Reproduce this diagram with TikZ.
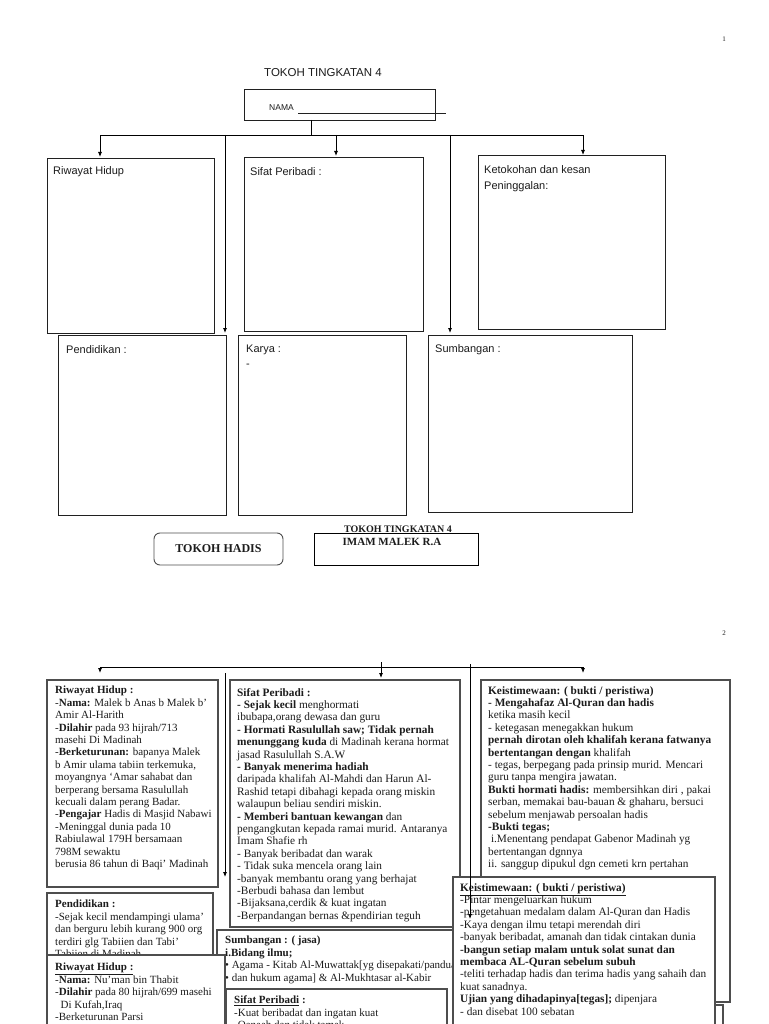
\documentclass[tikz,border=0pt]{standalone}
\usepackage{fontspec}
\setmainfont{Liberation Serif}
\newfontfamily\formfont{Liberation Sans}
\usetikzlibrary{arrows.meta}
\definecolor{Ink}{HTML}{1C1C1C}
\definecolor{Frame}{HTML}{4E4E4E}
\definecolor{FormLine}{HTML}{202020}

\begin{document}
\begin{tikzpicture}[x=1pt,y=-1pt,text=Ink,>={Latex[length=5pt,width=4pt]},
 formbox/.style={draw=FormLine,line width=0.8pt,inner sep=0pt},
 formlabel/.style={anchor=west,inner sep=0pt,font=\formfont\fontsize{11}{13}\selectfont},
 panel/.style={draw=Frame,line width=1.1pt,fill=white,inner sep=0pt},
 paneltext/.style={anchor=north west,inner sep=0pt,align=left,font=\fontsize{11}{12.4}\selectfont},
 widetext/.style={paneltext,font=\fontsize{11.3}{12.4}\selectfont},
 link/.style={draw=black,line width=0.8pt}]
\fill[white] (0,0) rectangle (768,1024);
\useasboundingbox (0,0) rectangle (768,1024);
\clip (0,0) rectangle (768,1024);
\node[font=\fontsize{7}{8}\selectfont] (pageone) at (724,39) {1};
\node[font=\formfont\fontsize{11.5}{14}\selectfont] (titleone) at (323,73) {TOKOH TINGKATAN 4};
\node[formbox,minimum width=191pt,minimum height=31pt] (nama) at (339.5,104.5) {};
\node[formlabel,font=\formfont\fontsize{8.5}{10}\selectfont] (namalabel) at (269,108) {NAMA};
\draw[FormLine,line width=0.7pt] (298,113) -- (446,113);
\node[formbox,minimum width=167pt,minimum height=175pt] (riwayat) at (130.5,245.5) {};
\node[formbox,minimum width=179pt,minimum height=174pt] (sifat) at (333.5,244) {};
\node[formbox,minimum width=187pt,minimum height=174pt] (ketokohan) at (571.5,242) {};
\node[formbox,minimum width=168pt,minimum height=180pt] (pendidikan) at (142,425) {};
\node[formbox,minimum width=168pt,minimum height=180pt] (karya) at (322,425) {};
\node[formbox,minimum width=204pt,minimum height=177pt] (sumbangan) at (530,423.5) {};
\node[formlabel] (riwayatlabel) at (53,172) {Riwayat Hidup};
\node[formlabel] (sifatlabel) at (250,172) {Sifat Peribadi :};
\node[formlabel] (ketokohanlabel) at (484,170) {Ketokohan dan kesan};
\node[formlabel] (peninggalanlabel) at (484,187) {Peninggalan:};
\node[formlabel] (pendidikanlabel) at (66,350) {Pendidikan :};
\node[formlabel] (karyalabel) at (246,350) {Karya :};
\node[formlabel] (karyadash) at (246,366) {-};
\node[formlabel] (sumbanganlabel) at (435,350) {Sumbangan :};
\coordinate (namafoot) at (311,120);
\coordinate (hubone) at (311,135);
\coordinate (tiponea) at (100,157);
\coordinate (tiponeb) at (336,156);
\coordinate (tiponec) at (583,155);
\coordinate (droponea) at (225,135);
\coordinate (droponeaend) at (225,333);
\coordinate (droponeb) at (450,135);
\coordinate (droponebend) at (450,333);
\draw[link] (namafoot) -- (hubone);
\draw[link,->] (hubone) -| (tiponea);
\draw[link,->] (hubone) -| (tiponec);
\draw[link,->] (tiponeb |- hubone) -- (tiponeb);
\draw[link,->] (droponea) -- (droponeaend);
\draw[link,->] (droponeb) -- (droponebend);
\node[font=\bfseries\fontsize{10}{12}\selectfont] (titletwo) at (398,529) {TOKOH TINGKATAN 4};
\node[draw=Frame,line width=0.9pt,rounded corners=6pt,minimum width=129pt,minimum height=32pt,font=\bfseries\fontsize{12}{14}\selectfont] (hadis) at (218.5,549) {TOKOH HADIS};
\node[draw=black,line width=0.9pt,minimum width=164pt,minimum height=32pt] (imam) at (396,549) {};
\node[font=\bfseries\fontsize{11}{13}\selectfont] (imamlabel) at (392,542) {IMAM MALEK R.A};
\node[font=\fontsize{7}{8}\selectfont] (pagetwo) at (724,633) {2};
\node[panel,minimum width=171pt,minimum height=207pt] (rhone) at (132.5,783.5) {};
\begin{scope}
\clip (rhone.north west) rectangle (rhone.south east);
\node[paneltext] (rhonetext) at (55,686) {\textbf{Riwayat Hidup :}\\
-\textbf{Nama:} Malek b Anas b Malek b’\\
Amir Al-Harith\\
-\textbf{Dilahir} pada 93 hijrah/713\\
masehi Di Madinah\\
-\textbf{Berketurunan:}  bapanya Malek\\
b Amir ulama tabiin terkemuka,\\
moyangnya ‘Amar sahabat dan\\
berperang bersama Rasulullah\\
kecuali dalam perang Badar.\\
-\textbf{Pengajar} Hadis di Masjid Nabawi\\
-Meninggal dunia pada 10\\
Rabiulawal 179H bersamaan\\
798M sewaktu\\
berusia 86 tahun di Baqi’ Madinah};
\end{scope}
\node[panel,minimum width=230pt,minimum height=247pt] (sfone) at (345,803.5) {};
\begin{scope}
\clip (sfone.north west) rectangle (sfone.south east);
\node[widetext] (sfonetext) at (237,688) {\textbf{Sifat Peribadi :}\\
\textbf{- Sejak kecil} menghormati\\
ibubapa,orang dewasa dan guru\\
\textbf{- Hormati Rasulullah saw; Tidak pernah}\\
\textbf{menunggang kuda} di Madinah kerana hormat\\
jasad Rasulullah S.A.W\\
\textbf{- Banyak menerima hadiah}\\
daripada khalifah Al-Mahdi dan Harun Al-\\
Rashid tetapi dibahagi kepada orang miskin\\
walaupun beliau sendiri miskin.\\
\textbf{- Memberi bantuan kewangan} dan\\
pengangkutan kepada ramai murid. Antaranya\\
Imam Shafie rh\\
- Banyak beribadat dan warak\\
- Tidak suka mencela orang lain\\
-banyak membantu orang yang berhajat\\
-Berbudi bahasa dan lembut\\
-Bijaksana,cerdik \& kuat ingatan\\
-Berpandangan bernas \&pendirian teguh};
\end{scope}
\node[panel,minimum width=249pt,minimum height=322pt] (ksone) at (605.5,841) {};
\begin{scope}
\clip (ksone.north west) rectangle (ksone.south east);
\node[widetext] (ksonetext) at (488,686) {\textbf{Keistimewaan: ( bukti / peristiwa)}\\
\textbf{- Mengahafaz Al-Quran dan hadis}\\
ketika masih kecil\\
- ketegasan menegakkan hukum\\
\textbf{pernah dirotan oleh khalifah kerana fatwanya}\\
\textbf{bertentangan dengan} khalifah\\
- tegas,  berpegang pada prinsip  murid.  Mencari\\
guru tanpa mengira jawatan.\\
\textbf{Bukti hormati hadis:} membersihkan diri , pakai\\
serban, memakai bau-bauan \& ghaharu, bersuci\\
sebelum menjawab persoalan hadis\\
\textbf{-Bukti tegas;}\\
\ i.Menentang pendapat Gabenor Madinah yg\\
bertentangan dgnnya\\
ii. sanggup dipukul dgn cemeti krn pertahan};
\end{scope}
\node[panel,minimum width=166pt,minimum height=107pt] (pdone) at (130,946.5) {};
\begin{scope}
\clip (pdone.north west) rectangle (pdone.south east);
\node[paneltext] (pdonetext) at (55,900) {\textbf{Pendidikan :}\\
-Sejak kecil mendampingi ulama’\\
dan berguru lebih kurang 900 org\\
terdiri glg Tabiien dan Tabi’\\
Tabiien di Madinah};
\end{scope}
\node[panel,minimum width=283pt,minimum height=110pt] (sbone) at (358.5,985) {};
\begin{scope}
\clip (sbone.north west) rectangle (sbone.south east);
\node[paneltext] (sbonetext) at (225,936) {\textbf{Sumbangan : ( jasa)}\\
\textbf{i.Bidang ilmu;}\\
\textbullet\ Agama - Kitab Al-Muwattak[yg disepakati/panduan il\\
\textbullet\ dan hukum agama] \& Al-Mukhtasar al-Kabir};
\end{scope}
\node[panel,minimum width=23pt,minimum height=35pt] (edgepiece) at (711.5,1022.5) {};
\node[panel,minimum width=178pt,minimum height=85pt] (rhtwo) at (136,997.5) {};
\begin{scope}
\clip (rhtwo.north west) rectangle (rhtwo.south east);
\node[paneltext] (rhtwotext) at (55,963) {\textbf{\underline{Riwayat Hidup :}}\\
-\textbf{Nama:} Nu’man bin Thabit\\
-\textbf{Dilahir} pada 80 hijrah/699 masehi\\
\ \ Di Kufah,Iraq\\
-Berketurunan Parsi};
\end{scope}
\node[panel,minimum width=221pt,minimum height=51pt] (sftwo) at (336.5,1014.5) {};
\begin{scope}
\clip (sftwo.north west) rectangle (sftwo.south east);
\node[paneltext] (sftwotext) at (234,996) {\textbf{\underline{Sifat Peribadi} :}\\
-Kuat beribadat dan ingatan kuat\\
-Qanaah dan tidak tamak};
\end{scope}
\node[panel,minimum width=262pt,minimum height=163pt] (kstwo) at (584,958.5) {};
\begin{scope}
\clip (kstwo.north west) rectangle (kstwo.south east);
\node[widetext] (kstwotext) at (460,883) {\textbf{\underline{Keistimewaan: ( bukti / peristiwa)}}\\
-Pintar mengeluarkan hukum\\
-pengetahuan medalam dalam Al-Quran dan Hadis\\
-Kaya dengan ilmu tetapi merendah diri\\
-banyak beribadat, amanah dan tidak cintakan  dunia\\
\textbf{-bangun setiap malam untuk solat sunat dan}\\
\textbf{membaca AL-Quran sebelum subuh}\\
-teliti terhadap hadis dan terima hadis yang sahaih dan\\
kuat sanadnya.\\
\textbf{Ujian yang dihadapinya[tegas];} dipenjara\\
- dan disebat 100 sebatan};
\end{scope}
\coordinate (stubtwo) at (381,662);
\coordinate (hubtwo) at (381,667);
\coordinate (tiptwoa) at (100,673);
\coordinate (tiptwob) at (381,678);
\coordinate (tiptwoc) at (583,673);
\coordinate (droptwoa) at (225,673);
\coordinate (droptwoaend) at (225,877);
\coordinate (droptwob) at (470,664);
\coordinate (droptwobend) at (470,919);
\draw[link,->] (stubtwo) -- (tiptwob);
\draw[link,->] (hubtwo) -| (tiptwoa);
\draw[link,->] (hubtwo) -| (tiptwoc);
\draw[link,->] (droptwoa) -- (droptwoaend);
\draw[link,->] (droptwob) -- (droptwobend);
\end{tikzpicture}
\end{document}
